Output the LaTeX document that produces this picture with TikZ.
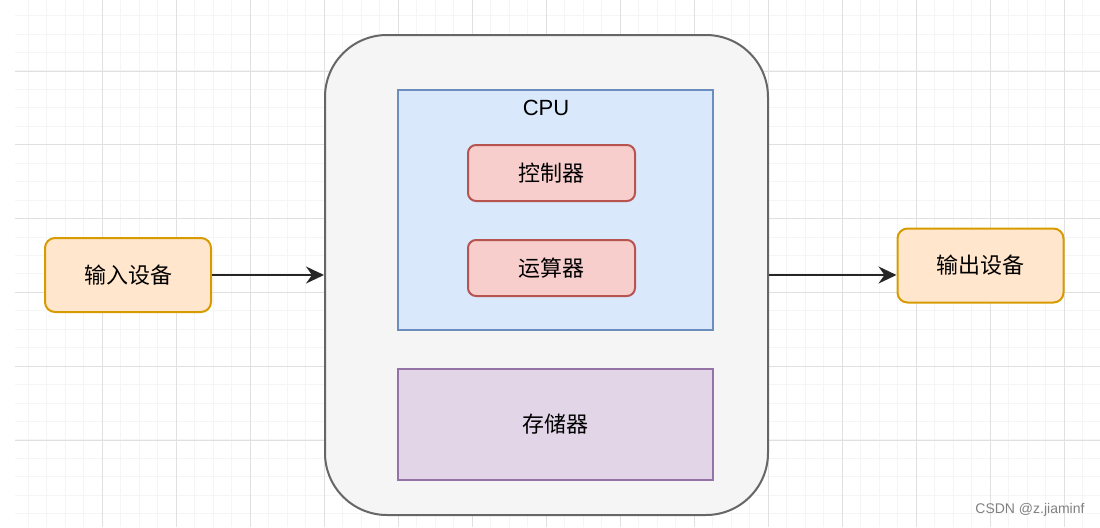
\documentclass[tikz,border=0pt]{standalone}
\usepackage{fontspec}
\setmainfont{Liberation Sans}
\newfontfamily\cjk{Noto Sans CJK SC}
\usetikzlibrary{arrows.meta,positioning}
\definecolor{gridlight}{HTML}{F5F5F5}
\definecolor{griddark}{HTML}{E0E0E0}
\definecolor{outerfill}{HTML}{F5F5F5}
\definecolor{outerline}{HTML}{666666}
\definecolor{cpufill}{HTML}{DAE8FC}
\definecolor{cpuline}{HTML}{6C8EBF}
\definecolor{unitfill}{HTML}{F8CECC}
\definecolor{unitline}{HTML}{B85450}
\definecolor{memfill}{HTML}{E1D5E7}
\definecolor{memline}{HTML}{9673A6}
\definecolor{iofill}{HTML}{FFE6CC}
\definecolor{ioline}{HTML}{D79B00}
\newcommand{\boxfont}{\fontsize{11}{13}\selectfont}
\tikzset{
  gridminor/.style={draw=gridlight, line width=0.5pt},
  gridmajor/.style={draw=griddark, line width=0.5pt},
  outerbox/.style={draw=outerline, fill=outerfill, line width=1pt, rounded corners=31pt, minimum width=221.5pt, minimum height=240pt},
  cpubox/.style={draw=cpuline, fill=cpufill, line width=1pt, minimum width=157.5pt, minimum height=120pt},
  unitbox/.style={draw=unitline, fill=unitfill, line width=1pt, rounded corners=4pt, minimum width=83.5pt, minimum height=28pt, font=\boxfont\cjk},
  membox/.style={draw=memline, fill=memfill, line width=1pt, minimum width=157.5pt, minimum height=55.5pt, font=\boxfont\cjk},
  iobox/.style={draw=ioline, fill=iofill, line width=1pt, rounded corners=5pt, minimum width=83pt, minimum height=37pt, font=\boxfont\cjk},
  flowarrow/.style={-{Stealth[length=9pt, width=8.5pt, inset=3pt]}, line width=1pt, black!85}
}

\begin{document}
\begin{tikzpicture}[x=0.5pt, y=-0.5pt, node distance=18.5pt, inner sep=0pt]
\useasboundingbox (0,0) rectangle (1100,527);
\foreach \i in {0,...,58} \draw[gridminor] ({28+18.5*\i},0) -- ({28+18.5*\i},527);
\foreach \j in {0,...,27} \draw[gridminor] (15,{15.6+18.45*\j}) -- (1100,{15.6+18.45*\j});
\foreach \i in {1,...,14} \draw[gridmajor] ({28+74*\i},0) -- ({28+74*\i},527);
\foreach \j in {0,...,5} \draw[gridmajor] (15,{71+73.8*\j}) -- (1100,{71+73.8*\j});

\node[outerbox] (outer) at (546.5,275) {};
\node[cpubox] (cpu) at (555.5,210) {};
\node[font=\boxfont] (cpulbl) at (546,108) {CPU};
\node[unitbox] (kzq) at (551.5,173) {控制器};
\node[unitbox, below=of kzq] (ysq) {运算器};
\node[membox, below=of cpu] (ccq) {存储器};
\node[iobox] (inpdev) at (128,275) {输入设备};
\node[iobox] (outdev) at (980.5,265.5) {输出设备};
\draw[flowarrow] (inpdev.east) -- (inpdev -| outer.west);
\draw[flowarrow] (inpdev -| outer.east) -- (inpdev -| outdev.west);
\node[font=\fontsize{7}{8}\selectfont, text=black!50] (mark) at (1030,510) {CSDN @z.jiaminf};
\end{tikzpicture}
\end{document}
